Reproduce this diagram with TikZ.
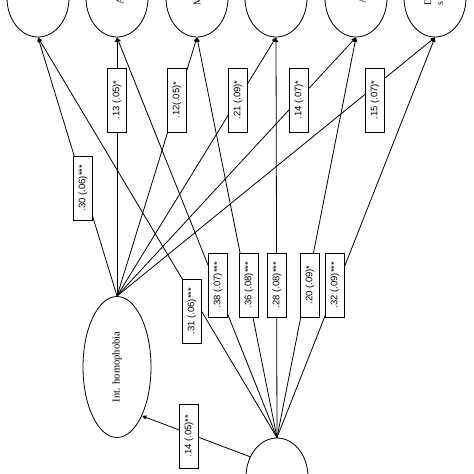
\documentclass[tikz,border=0pt]{standalone}
\usepackage{fontspec}
\setmainfont{Liberation Serif}
\setsansfont{Liberation Sans}
\usepackage{graphicx}
\usetikzlibrary{arrows.meta, shapes.geometric}

\begin{document}
\begin{tikzpicture}[x=1pt, y=-1pt, line width=0.8pt,
latent/.style={draw, ellipse, minimum width=62pt, minimum height=78pt, inner sep=0pt, font=\fontsize{10.5}{12}\selectfont},
coef/.style={draw, fill=white, rotate=90, minimum width=64pt, minimum height=19pt, inner sep=1pt, font=\sffamily\fontsize{9.5}{10}\selectfont},
effect/.style={-{Triangle[length=4.5pt, width=4pt]}}]
\useasboundingbox (0,0) rectangle (474,474);
\node[latent] (y1) at (38,-2) {};
\node[latent] (y2) at (117,-2) {};
\node[latent] (y3) at (197,-2) {};
\node[latent] (y4) at (276,-2) {};
\node[latent] (y5) at (356,-2) {};
\node[latent] (y6) at (435,-2) {};
\node[rotate=90, anchor=west, inner sep=0pt] (f2) at (120,5) {A};
\node[rotate=90, anchor=west, inner sep=0pt] (f3) at (197,6) {M};
\node[rotate=90, anchor=west, inner sep=0pt] (f5) at (362,4) {A};
\node[rotate=90, anchor=west, inner sep=0pt, align=left] (f6) at (434,6) {D\\s};
\node[latent, minimum width=68pt, minimum height=141pt] (ih) at (117,367) {\rotatebox{90}{Int. homophobia}};
\node[latent] (src) at (277,477) {};
\draw[effect] (ih.north) -- (y1.south);
\draw[effect] (ih.north) -- (y2.south);
\draw[effect] (ih.north) -- (y3.south);
\draw[effect] (ih.north) -- (y4.south);
\draw[effect] (ih.north) -- (y5.south);
\draw[effect] (ih.north) -- (y6.south);
\draw[effect] (src.north) -- (y1.south);
\draw[effect] (src.north) -- (y2.south);
\draw[effect] (src.north) -- (y3.south);
\draw[effect] (src.north) -- (y4.south);
\draw[effect] (src.north) -- (y5.south);
\draw[effect] (src.north) -- (y6.south);
\draw[effect] (src.143) -- (ih.-63);
\node[coef] (a1) at (83,188) {.30 (.06)***};
\node[coef] (a2) at (117,100) {.13 (.05)*};
\node[coef] (a3) at (177,100) {.12(.05)*};
\node[coef] (a4) at (238,100) {.21 (.09)*};
\node[coef] (a5) at (299,100) {.14 (.07)*};
\node[coef] (a6) at (375,100) {.15 (.07)*};
\node[coef] (b1) at (192,311) {.31 (.06)***};
\node[coef] (b2) at (218,285) {.38 (.07)***};
\node[coef] (b3) at (249,285) {.36 (.08)***};
\node[coef] (b4) at (277,285) {.28 (.08)***};
\node[coef] (b5) at (310,285) {.20 (.09)*};
\node[coef] (b6) at (335,285) {.32 (.09)***};
\node[coef] (c1) at (189,436) {.14 (.05)**};
\end{tikzpicture}
\end{document}
